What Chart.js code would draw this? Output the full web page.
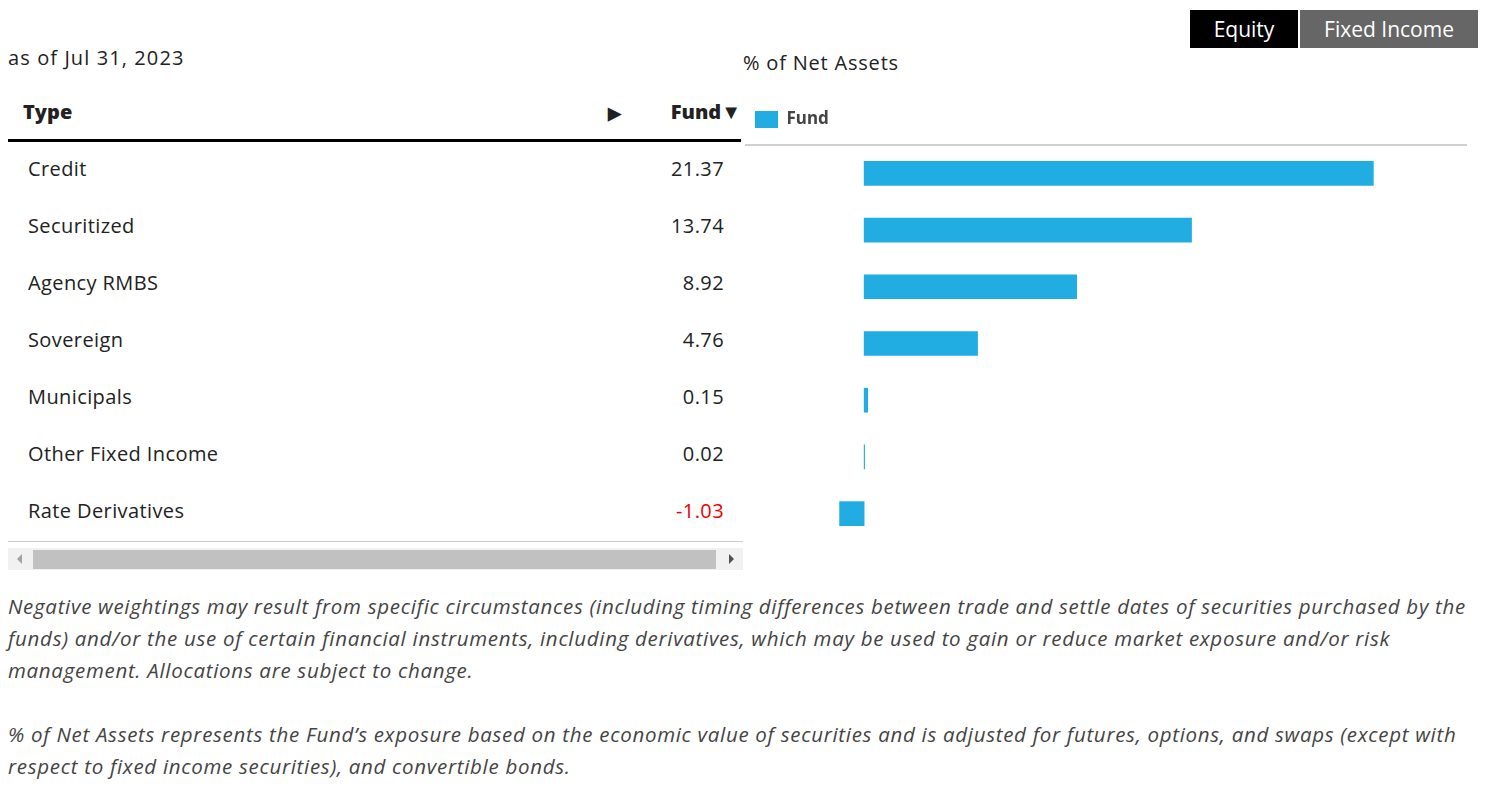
<!DOCTYPE html>
<html>
<head>
<meta charset="utf-8">
<script src="https://cdn.jsdelivr.net/npm/chart.js@4.4.0/dist/chart.umd.min.js"></script>
<style>
    body { margin: 0; background: #fff; font-family: "Open Sans", sans-serif; color: #222; width: 1503px; height: 800px; position: relative; overflow: hidden; }
    .abs { position: absolute; }
    #tabs { left: 1190px; top: 10px; height: 38px; display: flex; }
    #tabs div { color: #fff; font-size: 21px; line-height: 38px; text-align: center; }
    #asof { left: 8px; top: 44px; font-size: 20px; letter-spacing: 1.1px; }
    #chartTitle { left: 743px; top: 49px; font-size: 20px; letter-spacing: 0.8px; }
    #tbl { left: 8px; top: 88px; width: 733px; }
    table { border-collapse: collapse; width: 100%; }
    th { font-weight: 800; font-size: 20px; height: 47px; padding: 0 0 4px 0; text-align: left; border-bottom: 3px solid #000; }
    td { font-size: 20px; height: 53px; padding: 0 0 4px 0; letter-spacing: 0.4px; }
    td.lbl { padding-left: 20px; }
    td.val { text-align: right; padding-right: 17px; }
    #scroll { left: 8px; top: 541px; width: 735px; height: 29px; border-top: 1px solid #ccc; }
    #scroll .bg { position: absolute; left: 0; top: 6px; width: 735px; height: 22px; background: #f1f1f1; }
    #scroll .thumb { position: absolute; left: 25px; top: 8px; width: 683px; height: 19px; background: #c1c1c1; }
    #note { left: 8px; top: 590px; width: 1475px; font-style: italic; font-size: 20.5px; letter-spacing: 0.7px; line-height: 32px; color: #444; }
    #wrap { left: 745px; top: 101px; width: 722px; height: 446px; }
</style>
</head>
<body>
<div id="tabs" class="abs">
    <div style="background:#000;width:108px;">Equity</div>
    <div style="background:#666;width:178px;margin-left:2px;">Fixed Income</div>
</div>
<div id="asof" class="abs">as of Jul 31, 2023</div>
<div id="chartTitle" class="abs">% of Net Assets</div>
<div id="tbl" class="abs">
    <table id="dataTable"></table>
</div>
<div id="scroll" class="abs">
    <div class="bg"></div>
    <div class="thumb"></div>
    <div class="abs" style="left:9px;top:12px;width:0;height:0;border-top:5px solid transparent;border-bottom:5px solid transparent;border-right:5px solid #a3a3a3;"></div>
    <div class="abs" style="left:721px;top:12px;width:0;height:0;border-top:5px solid transparent;border-bottom:5px solid transparent;border-left:5px solid #505050;"></div>
</div>
<div id="wrap" class="abs"><canvas id="chart"></canvas></div>
<div id="note" class="abs">Negative weightings may result from specific circumstances (including timing differences between trade and settle dates of securities purchased by the funds) and/or the use of certain financial instruments, including derivatives, which may be used to gain or reduce market exposure and/or risk management. Allocations are subject to change.<br><br>% of Net Assets represents the Fund’s exposure based on the economic value of securities and is adjusted for futures, options, and swaps (except with respect to fixed income securities), and convertible bonds.</div>

<script>
// data
const types = ["Credit", "Securitized", "Agency RMBS", "Sovereign", "Municipals", "Other Fixed Income", "Rate Derivatives"];
const fundValues = [21.37, 13.74, 8.92, 4.76, 0.15, 0.02, -1.03];
const xMin = -5;
const xMax = 25.3;

// Table
let tableElem = document.getElementById("dataTable");
let head = tableElem.insertRow(0);
head.innerHTML = '<th style="padding-left:15px;">Type</th>' +
    '<th style="text-align:right;width:160px;"><span style="font-size:17px;margin-right:50px;">&#9654;</span>Fund&#9660;</th>';
for (let i = 0; i < types.length; i++) {
    let row = tableElem.insertRow(-1);
    let c1 = row.insertCell(0);
    c1.className = "lbl";
    c1.innerHTML = types[i];
    let c2 = row.insertCell(1);
    c2.className = "val";
    c2.innerHTML = fundValues[i].toFixed(2);
    if (fundValues[i] < 0) c2.style.color = "#e00";
}

// extra room under the legend
const legendGap = {
    id: 'legendGap',
    beforeInit(chart) {
        const fit = chart.legend.fit;
        chart.legend.fit = function() {
            fit.bind(chart.legend)();
            this.height += 7;
        };
    }
};

// Chart
let config = {
    type: 'bar',
    data: {
        labels: types,
        datasets: [{
            label: 'Fund',
            data: fundValues,
            backgroundColor: '#21ade1',
            borderWidth: 0,
            barThickness: 24
        }]
    },
    options: {
        indexAxis: 'y',
        responsive: true,
        maintainAspectRatio: false,
        animation: false,
        layout: { padding: { top: 0, bottom: 5 } },
        scales: {
            x: {
                position: 'top',
                min: xMin,
                max: xMax,
                ticks: { display: false },
                grid: { display: false, drawTicks: false },
                border: { display: true, color: '#d0d0d0', width: 2 }
            },
            y: {
                ticks: { display: false },
                grid: { display: false, drawTicks: false },
                border: { display: false }
            }
        },
        plugins: {
            legend: {
                display: true,
                align: 'start',
                labels: {
                    boxWidth: 23,
                    boxHeight: 17,
                    color: '#444',
                    font: { family: 'Noto Sans', size: 17, weight: 'bold' },
                    padding: 10
                }
            },
            tooltip: { enabled: false }
        }
    },
    plugins: [legendGap]
};
let myChart = new Chart(document.getElementById("chart"), config);
</script>
</body>
</html>
